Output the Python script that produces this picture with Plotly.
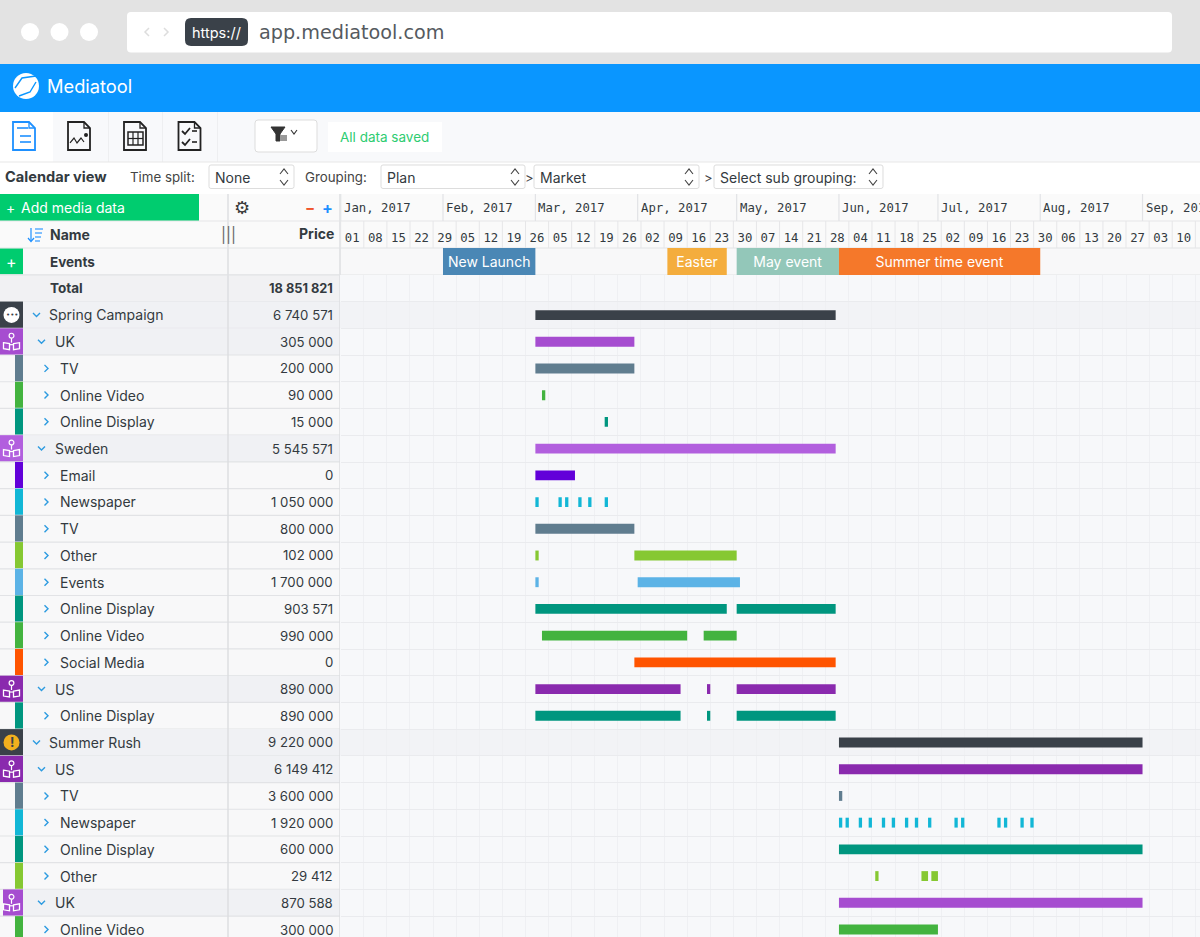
import pandas as pd
import plotly.graph_objects as go

W, H = 1200, 937

# --- table rows ---
row_names = ['Events', 'Total', 'Spring Campaign', 'UK', 'TV', 'Online Video', 'Online Display',
             'Sweden', 'Email', 'Newspaper', 'TV', 'Other', 'Events', 'Online Display',
             'Online Video', 'Social Media', 'US', 'Online Display', 'Summer Rush', 'US', 'TV',
             'Newspaper', 'Online Display', 'Other', 'UK', 'Online Video']
row_prices = ['', '18 851 821', '6 740 571', '305 000', '200 000', '90 000', '15 000',
              '5 545 571', '0', '1 050 000', '800 000', '102 000', '1 700 000', '903 571',
              '990 000', '0', '890 000', '890 000', '9 220 000', '6 149 412', '3 600 000',
              '1 920 000', '600 000', '29 412', '870 588', '300 000']
row_kinds = ['events', 'total', 'plan', 'market', 'media', 'media', 'media',
             'market', 'media', 'media', 'media', 'media', 'media', 'media',
             'media', 'media', 'market', 'media', 'plan', 'market', 'media',
             'media', 'media', 'media', 'market', 'media']
row_colors = ['#00cc6f', '#f1f1f3', '#3a4149', '#a64dd0', '#607d8f', '#43b33f', '#00967f',
              '#b25fde', '#6200d9', '#12b7d6', '#607d8f', '#86c832', '#5cb3e6', '#00967f',
              '#43b33f', '#ff5400', '#8a2aae', '#00967f', '#3a4149', '#8a2aae', '#607d8f',
              '#12b7d6', '#00967f', '#86c832', '#a64dd0', '#43b33f']

# --- bars, one entry per segment ---
seg_rows = [2, 3, 4, 5, 6, 7, 8,
            9, 9, 9, 9, 9, 9,
            10, 11, 11, 12, 12, 13, 13, 14, 14, 15,
            16, 16, 16, 17, 17, 17,
            18, 19, 20,
            21, 21, 21, 21, 21, 21, 21, 21, 21, 21, 21, 21, 21, 21, 21,
            22, 23, 23, 23, 24, 25]
seg_starts = ['2017-03-01', '2017-03-01', '2017-03-01', '2017-03-03', '2017-03-22', '2017-03-01', '2017-03-01',
              '2017-03-01', '2017-03-08', '2017-03-10', '2017-03-14', '2017-03-17', '2017-03-22',
              '2017-03-01', '2017-03-01', '2017-03-31', '2017-03-01', '2017-04-01', '2017-03-01', '2017-05-01',
              '2017-03-03', '2017-04-21', '2017-03-31',
              '2017-03-01', '2017-04-22', '2017-05-01', '2017-03-01', '2017-04-22', '2017-05-01',
              '2017-06-01', '2017-06-01', '2017-06-01',
              '2017-06-01', '2017-06-03', '2017-06-07', '2017-06-10', '2017-06-14', '2017-06-17', '2017-06-21',
              '2017-06-24', '2017-06-28', '2017-07-06', '2017-07-08', '2017-07-19', '2017-07-21', '2017-07-26',
              '2017-07-29',
              '2017-06-01', '2017-06-12', '2017-06-26', '2017-06-29', '2017-06-01', '2017-06-01']
seg_ends = ['2017-05-31', '2017-03-31', '2017-03-31', '2017-03-04', '2017-03-23', '2017-05-31', '2017-03-13',
            '2017-03-02', '2017-03-09', '2017-03-11', '2017-03-15', '2017-03-18', '2017-03-23',
            '2017-03-31', '2017-03-02', '2017-05-01', '2017-03-02', '2017-05-02', '2017-04-28', '2017-05-31',
            '2017-04-16', '2017-05-01', '2017-05-31',
            '2017-04-14', '2017-04-23', '2017-05-31', '2017-04-14', '2017-04-23', '2017-05-31',
            '2017-09-01', '2017-09-01', '2017-06-02',
            '2017-06-02', '2017-06-04', '2017-06-08', '2017-06-11', '2017-06-15', '2017-06-18', '2017-06-22',
            '2017-06-25', '2017-06-29', '2017-07-07', '2017-07-09', '2017-07-20', '2017-07-22', '2017-07-27',
            '2017-07-30',
            '2017-09-01', '2017-06-13', '2017-06-28', '2017-07-01', '2017-09-01', '2017-07-01']

# --- calendar events row ---
event_names = ['New Launch', 'Easter', 'May event', 'Summer time event']
event_starts = ['2017-02-01', '2017-04-10', '2017-05-01', '2017-06-01']
event_ends = ['2017-03-01', '2017-04-28', '2017-06-01', '2017-08-01']
event_colors = ['#4a87b5', '#f4ad3d', '#93c7b9', '#f5782a']

month_starts = ['2017-01-01', '2017-02-01', '2017-03-01', '2017-04-01', '2017-05-01',
                '2017-06-01', '2017-07-01', '2017-08-01', '2017-09-01']
month_labels = ['Jan, 2017', 'Feb, 2017', 'Mar, 2017', 'Apr, 2017', 'May, 2017',
                'Jun, 2017', 'Jul, 2017', 'Aug, 2017', 'Sep, 2017']
week_starts = pd.date_range('2017-01-01', '2017-09-17', freq='7D')

ROW_0 = 261.5   # pixel centre of the events row
ROW_H = 26.72
TXT = 'Inter'
MONO = 'DejaVu Sans Mono'


def fx(x):
    return x / W


def fy(y):
    return 1 - y / H


def row_y(i):
    return ROW_0 + i * ROW_H


shapes = []
annos = []


def rect(x0, y0, x1, y1, fill, line=None, layer='below', lw=1):
    shapes.append(dict(type='rect', xref='paper', yref='paper', x0=fx(x0), x1=fx(x1), y0=fy(y0), y1=fy(y1),
                       fillcolor=fill, line=dict(color=line or fill, width=lw if line else 0), layer=layer))


def rrect(x0, y0, x1, y1, r, fill, line=None, layer='below'):
    def p(x, y):
        return f'{fx(x):.5f},{fy(y):.5f}'
    d = (f'M{p(x0 + r, y0)} L{p(x1 - r, y0)} Q{p(x1, y0)} {p(x1, y0 + r)} L{p(x1, y1 - r)} '
         f'Q{p(x1, y1)} {p(x1 - r, y1)} L{p(x0 + r, y1)} Q{p(x0, y1)} {p(x0, y1 - r)} '
         f'L{p(x0, y0 + r)} Q{p(x0, y0)} {p(x0 + r, y0)} Z')
    shapes.append(dict(type='path', xref='paper', yref='paper', path=d, fillcolor=fill, layer=layer,
                       line=dict(color=line or fill, width=1 if line else 0)))


def circle(cx, cy, r, fill, layer='above', line=None):
    shapes.append(dict(type='circle', xref='paper', yref='paper', x0=fx(cx - r), x1=fx(cx + r),
                       y0=fy(cy - r), y1=fy(cy + r), fillcolor=fill,
                       line=dict(color=line or fill, width=1.2 if line else 0), layer=layer))


def poly(pts, color, lw=1.5, fill=None, close=False):
    d = 'M' + ' L'.join(f'{fx(x):.5f},{fy(y):.5f}' for x, y in pts) + (' Z' if close else '')
    shapes.append(dict(type='path', xref='paper', yref='paper', path=d, layer='above',
                       fillcolor=fill or 'rgba(0,0,0,0)', line=dict(color=color, width=lw)))


def text(x, y, s, size=14, color='#333a40', anchor='left', family=TXT):
    annos.append(dict(xref='paper', yref='paper', x=fx(x), y=fy(y), text=s, showarrow=False, xanchor=anchor,
                      yanchor='middle', borderpad=0, font=dict(size=size, color=color, family=family)))


def updown(x, y):
    poly([(x - 4, y - 3), (x, y - 8), (x + 4, y - 3)], '#444', 1.1)
    poly([(x - 4, y + 3), (x, y + 8), (x + 4, y + 3)], '#444', 1.1)


def select(x0, x1, label):
    rrect(x0, 165, x1, 188.5, 2, '#ffffff', '#dddddd')
    text(x0 + 5, 177, label, 14, '#333a40')
    updown(x1 - 10, 177)


def doc(cx, color):
    cy = 136
    poly([(cx - 11, cy - 14), (cx + 5, cy - 14), (cx + 11, cy - 8), (cx + 11, cy + 14), (cx - 11, cy + 14)],
         color, 1.8, close=True)
    poly([(cx + 5, cy - 14), (cx + 5, cy - 8), (cx + 11, cy - 8)], color, 1.3)


def market_icon(cy):
    cx = 11.5
    circle(cx, cy - 6, 2.4, 'rgba(0,0,0,0)', line='#ffffff')
    poly([(cx, cy - 3.5), (cx, cy + 1)], '#ffffff', 1.2)
    poly([(cx - 8, cy + 1), (cx - 2, cy + 2), (cx - 2, cy + 8), (cx - 8, cy + 7)], '#ffffff', 1.3, close=True)
    poly([(cx + 2, cy + 2), (cx + 8, cy + 1), (cx + 8, cy + 7), (cx + 2, cy + 8)], '#ffffff', 1.3, close=True)
    poly([(cx - 2, cy + 3), (cx + 2, cy + 3)], '#ffffff', 1.2)


# --- browser frame ---
rect(0, 0, W, 64, '#e3e3e3')
circle(30, 32, 9, '#ffffff')
circle(59.5, 32, 9, '#ffffff')
circle(89, 32, 9, '#ffffff')
rrect(127, 12, 1172, 52.5, 4, '#ffffff')
poly([(149, 28), (145, 32), (149, 36)], '#dddddd', 1.5)
poly([(164, 28), (168, 32), (164, 36)], '#dddddd', 1.5)
rrect(185, 18, 248, 46, 6, '#3a4149', layer='above')
text(216.5, 32, 'https://', 14.5, '#ffffff', 'center')
text(258, 32, 'app.mediatool.com', 19.2, '#555a60', family='DejaVu Sans')

# --- app header ---
rect(0, 64, W, 112, '#0a96ff')
circle(26, 86, 13, '#ffffff')
poly([(15, 88), (22, 78), (36, 76)], '#0a96ff', 1.4)
poly([(19, 96), (30, 92), (36, 82)], '#0a96ff', 1.4)
text(45.5, 86, 'Mediatool', 18.3, '#ffffff')

# --- toolbar ---
rect(0, 112, W, 162, '#f8f9fb')
rect(0, 112, 53, 162, '#ffffff')
for sep in [108, 162, 217]:
    rect(sep, 112, sep + 1, 162, '#eeeff1')
doc(24, '#1e90ff')
poly([(17, 128), (28, 128)], '#1e90ff', 1.6)
poly([(20, 136), (31, 136)], '#1e90ff', 1.6)
poly([(20, 142), (31, 142)], '#1e90ff', 1.6)
doc(79, '#222222')
poly([(70, 143), (74, 138), (77, 143), (81, 138), (84, 142)], '#222222', 1.2)
circle(86, 135, 2, '#222222')
doc(135, '#222222')
rect(128, 132, 143, 145, 'rgba(0,0,0,0)', '#222222', 'above', 1.5)
poly([(133, 132), (133, 145)], '#222222', 1.2)
poly([(138, 132), (138, 145)], '#222222', 1.2)
poly([(128, 138.5), (143, 138.5)], '#222222', 1.2)
doc(189.5, '#222222')
for off in [-5, 6]:
    poly([(182, 136 + off), (185, 139 + off), (190, 133 + off)], '#222222', 1.8)
    poly([(192, 136 + off), (197, 136 + off)], '#222222', 1.6)
rrect(255, 120, 317, 152, 3, '#ffffff', '#dddddd')
poly([(271, 127), (285, 127), (280, 134), (280, 141), (276, 141), (276, 134)], '#333333', 1, '#333333', True)
rect(281, 135, 287, 141, '#999999', layer='above')
poly([(291, 130), (294, 134), (297, 130)], '#333333', 1.1)
rect(328, 122, 442, 152, '#ffffff')
text(339, 137, 'All data saved', 13.5, '#2ecc71')

# --- filter row ---
rect(0, 162, W, 194, '#ffffff')
rect(0, 161.5, W, 162.5, '#e8e8e8')
text(4, 177, '<b>Calendar view</b>', 14.6)
text(129, 177, 'Time split:', 13.3, '#444')
select(209, 294, 'None')
text(304, 177, 'Grouping:', 13.3, '#444')
select(381, 525, 'Plan')
text(529, 178, '>', 13, '#444', 'center')
select(534, 699, 'Market')
text(708, 178, '>', 13, '#444', 'center')
select(714, 883, 'Select sub grouping:')

# --- calendar header ---
rect(0, 194, W, 248, '#fafafa')
rect(0, 194, 199, 221, '#00cc6f')
text(5, 207, '+', 14, '#ffffff')
text(20, 207, 'Add media data', 14, '#ffffff')
text(242, 207.5, '⚙', 18, '#3a3a3a', 'center', 'DejaVu Sans')
text(310, 207.5, '<b>−</b>', 15, '#f0552c', 'center')
text(327, 207.5, '<b>+</b>', 16, '#1e90ff', 'center')
text(49, 234.5, '<b>Name</b>', 14)
text(228, 234.5, '|||', 15, '#666666', 'center')
text(335, 234, '<b>Price</b>', 14, anchor='right')
poly([(31, 228), (31, 241)], '#1e90ff', 1.2)
poly([(28, 238), (31, 241.5), (34, 238)], '#1e90ff', 1.2)
for yy, xe in [(229, 43), (233, 42), (237, 41), (241, 40)]:
    poly([(35, yy), (xe, yy)], '#1e90ff', 1.1)

# month and week cells in the header go through the date axis
for m, label in zip(month_starts, month_labels):
    shapes.append(dict(type='line', xref='x', yref='paper', x0=m, x1=m, y0=fy(221), y1=fy(194),
                       line=dict(color='#e2e3e6', width=1.2), layer='above'))
    annos.append(dict(xref='x', yref='paper', x=m, y=fy(207.5), text=label, showarrow=False, xanchor='left',
                      xshift=1, yanchor='middle', font=dict(size=12.3, color='#333a40', family=MONO)))
for wk in week_starts:
    shapes.append(dict(type='line', xref='x', yref='paper', x0=wk, x1=wk, y0=fy(248), y1=fy(221),
                       line=dict(color='#e6e6e8', width=1), layer='above'))

# --- left table ---
rect(0, 248, W, 275, '#f8f8f9')
rect(0, 275, 340, H, '#f8f8f9')
for i, (name, price, kind, color) in enumerate(zip(row_names, row_prices, row_kinds, row_colors)):
    cy = row_y(i)
    y0, y1 = cy - ROW_H / 2, cy + ROW_H / 2
    if kind in ('plan', 'market'):
        rect(23, y0, 340, y1, '#f0f1f4')
    if kind == 'total':
        rect(0, y0, 340, y1, '#f1f1f3')
    if kind == 'events':
        rect(0, y0, 23, y1, color)
        text(11.5, cy, '+', 16, '#ffffff', 'center')
        text(49, cy, '<b>' + name + '</b>', 13.5)
    elif kind == 'total':
        text(49, cy, '<b>' + name + '</b>', 13.5)
        text(334, cy, '<b>' + price + '</b>', 12.8, anchor='right')
    else:
        if kind == 'plan':
            rect(0, y0, 23, y1, color)
            poly([(33, cy - 2), (36.5, cy + 1.5), (40, cy - 2)], '#2d9be0', 1.4)
            text(48, cy, name, 14)
        elif kind == 'market':
            rect(3 if i == 24 else 0, y0, 23, y1, color)
            market_icon(cy)
            poly([(38, cy - 2), (41.5, cy + 1.5), (45, cy - 2)], '#2d9be0', 1.4)
            text(54, cy, name, 14)
        else:
            rect(15, y0, 23, y1, color)
            poly([(44.5, cy - 3.5), (48, cy), (44.5, cy + 3.5)], '#2d9be0', 1.4)
            text(59, cy, name, 14)
        text(334, cy, price, 13.2, anchor='right')
    rect(0, y1 - 0.6, 340, y1 + 0.6, '#e2e3e6')

# status badges on the two plan rows
circle(11.5, row_y(2), 8, '#ffffff')
text(11.5, row_y(2), '•••', 7, '#3a4149', 'center', 'DejaVu Sans')
circle(11.5, row_y(18), 8, '#f2b01e')
text(11.5, row_y(18), '<b>!</b>', 13, '#3a4149', 'center')

for xv in [228, 340]:
    rect(xv - 0.7, 194, xv + 0.7, H, '#dcdde0')
rect(0, 220.5, W, 221.5, '#e6e6e8')
rect(0, 247.4, W, 248.6, '#e2e3e6')
rect(0, 274.6, W, 275.6, '#e2e3e6')

# --- chart area background ---
rect(340, 275, W, H, '#f7f8fa')
for i in [2, 18]:
    rect(340, row_y(i) - ROW_H / 2, W, row_y(i) + ROW_H / 2, '#f2f3f6')

# --- traces ---
starts = pd.to_datetime(seg_starts)
ends = pd.to_datetime(seg_ends)
durations = [(e - s).total_seconds() * 1000 for s, e in zip(starts, ends)]
bars = go.Bar(y=seg_rows, base=seg_starts, x=durations, orientation='h', width=0.37,
              marker=dict(color=[row_colors[r] for r in seg_rows], line_width=0),
              xaxis='x', yaxis='y', hoverinfo='skip', showlegend=False)

ev_durations = [(e - s).total_seconds() * 1000
                for s, e in zip(pd.to_datetime(event_starts), pd.to_datetime(event_ends))]
events = go.Bar(y=[0] * len(event_names), base=event_starts, x=ev_durations, orientation='h', width=1,
                marker=dict(color=event_colors, line_width=0), text=event_names, textposition='inside',
                insidetextanchor='middle', textangle=0, constraintext='none',
                textfont=dict(size=14, color='#ffffff', family=TXT),
                xaxis='x2', yaxis='y2', hoverinfo='skip', showlegend=False)

fig = go.Figure([bars, events])

x_range = ['2017-01-01', '2017-09-18 10:00']
chart_top = fy(275)
fig.update_layout(
    width=W, height=H, margin=dict(l=0, r=0, t=0, b=0, pad=0, autoexpand=False), autosize=False,
    paper_bgcolor='#ffffff', plot_bgcolor='rgba(0,0,0,0)',
    barmode='overlay', shapes=shapes, annotations=annos, showlegend=False,
    xaxis=dict(type='date', domain=[fx(340.7), 1], range=x_range, anchor='y', tick0='2017-01-01',
               dtick=7 * 86400000, showgrid=True, gridcolor='#eff0f3', gridwidth=1, showticklabels=False,
               ticks='', zeroline=False, showline=False),
    xaxis2=dict(type='date', domain=[fx(340.7), 1], matches='x', anchor='y2', side='top',
                tickmode='array', tickvals=week_starts + pd.Timedelta(days=3.5),
                ticktext=week_starts.strftime('%d').tolist(), showgrid=False, ticks='', ticklabelstandoff=3,
                tickfont=dict(size=12.3, color='#333a40', family=MONO), zeroline=False, showline=False),
    yaxis=dict(domain=[0, chart_top], range=[(H - ROW_0) / ROW_H, 0.5], anchor='x', tick0=0.5, dtick=1,
               showgrid=True, gridcolor='#eaebee', gridwidth=1, showticklabels=False, ticks='',
               zeroline=False, showline=False),
    yaxis2=dict(domain=[chart_top, fy(248)], range=[0.5, -0.5], anchor='x2', showgrid=False,
                showticklabels=False, ticks='', zeroline=False, showline=False),
)

fig.write_html('out.html', config={'displayModeBar': False},
               post_script="document.body.style.margin='0';document.body.style.overflow='hidden';")
